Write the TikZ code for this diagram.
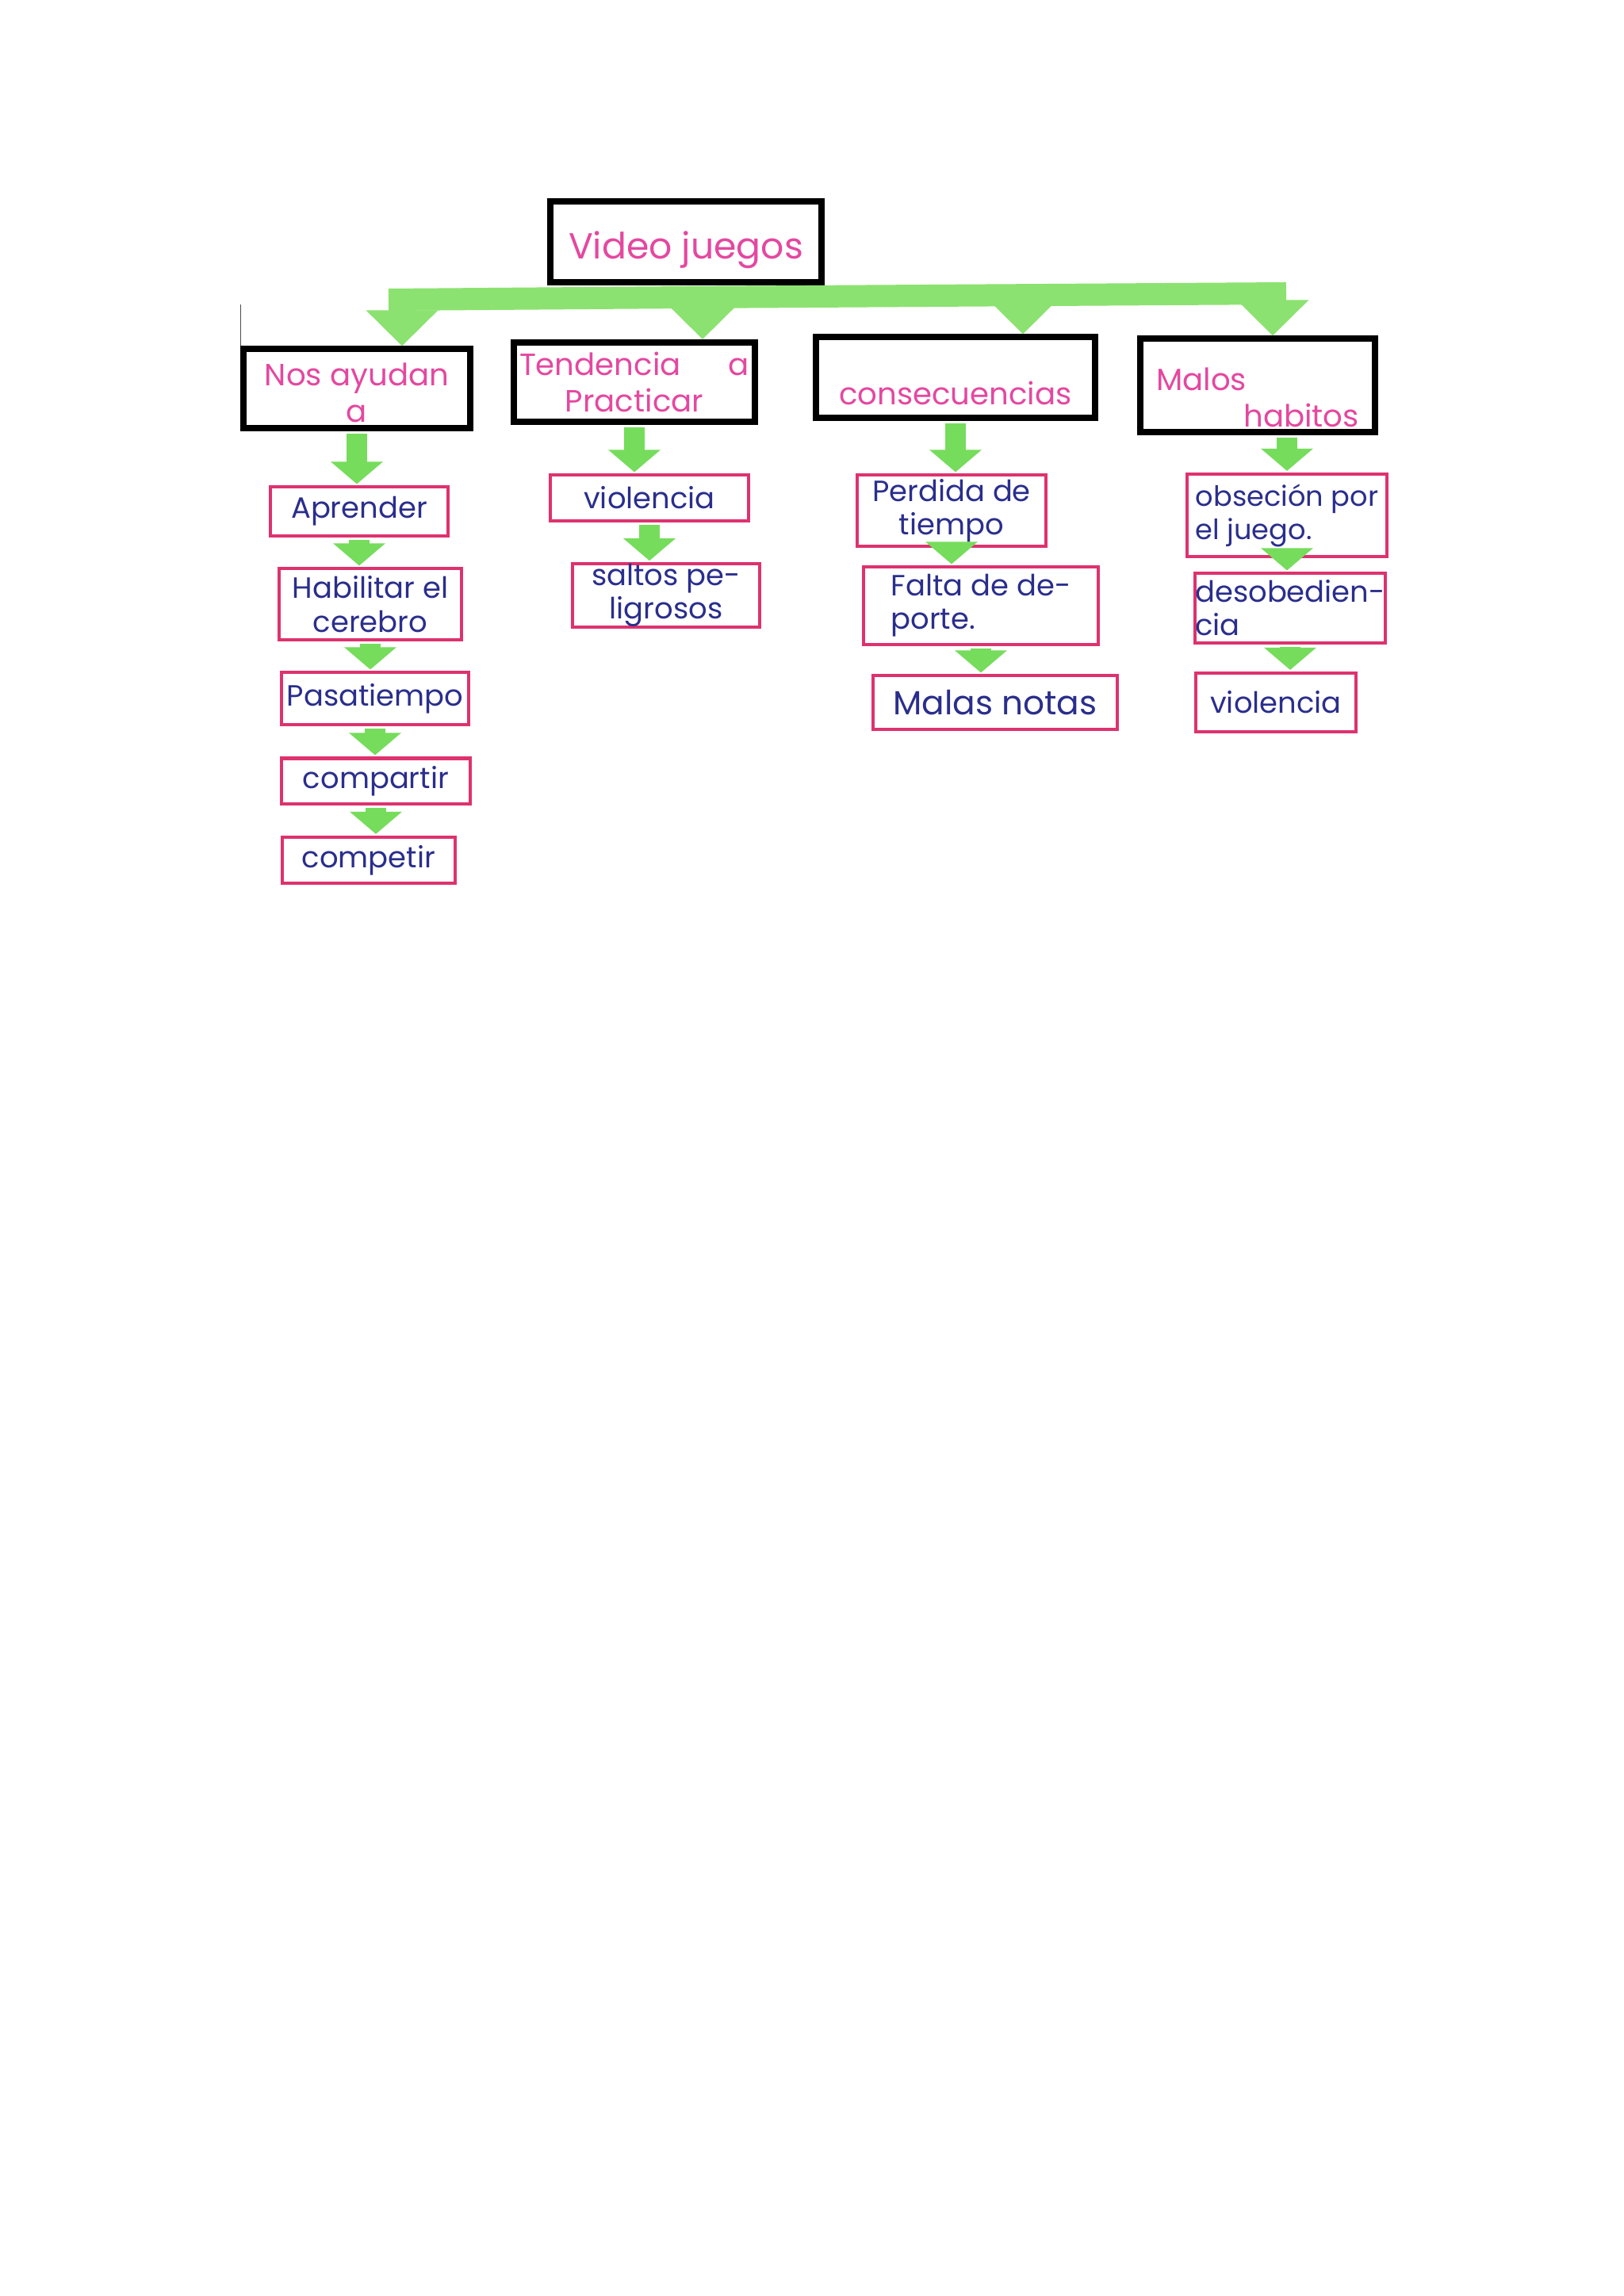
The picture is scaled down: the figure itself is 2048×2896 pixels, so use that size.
\documentclass[tikz,border=0pt]{standalone}
\usepackage{fontspec}
\setmainfont{Poppins}
\usetikzlibrary{arrows.meta}

\definecolor{titlepink}{RGB}{228,72,160}
\definecolor{boxpink}{RGB}{222,50,110}
\definecolor{inkblue}{RGB}{42,46,140}
\definecolor{barlight}{RGB}{140,226,112}
\definecolor{arrowgreen}{RGB}{118,220,92}

\tikzset{
  topbox/.style={draw=black, line width=0.08cm, text=titlepink, align=center, inner sep=0pt, font=\fontsize{11}{13}\selectfont},
  subbox/.style={draw=boxpink, line width=0.04cm, text=inkblue, align=center, inner sep=0pt, font=\fontsize{10.5}{12}\selectfont},
  greenbar/.style={draw=barlight, line width=0.28cm},
  bigarrow/.style={draw=barlight, line width=0.28cm, -{Triangle[width=0.88cm,length=0.45cm]}},
  smallarrow/.style={draw=arrowgreen, line width=0.26cm, -{Triangle[width=0.64cm,length=0.28cm]}, shorten <=0.03cm, shorten >=0.02cm}
}

\begin{document}
\begin{tikzpicture}[x=0.01cm, y=-0.01cm]
    \fill[white] (0,0) rectangle (2048,2896);
    \useasboundingbox (0,0) rectangle (2048,2896);

    \node[topbox, minimum width=3.42cm, minimum height=1.01cm, font=\fontsize{13}{15}\selectfont] (video) at (865,305) {\raisebox{-0.1cm}[\height][\depth]{Video juegos}};

    \node[topbox, minimum width=2.85cm, minimum height=0.99cm] (ayudan) at (450,490) {\raisebox{-0.1cm}[\height][\depth]{\begin{tabular}{@{}c@{}}Nos ayudan\\ a\end{tabular}}};
    \node[topbox, minimum width=3.03cm, minimum height=1.00cm] (tendencia) at (800,482) {Tendencia\hspace{0.6cm}a\\ Practicar};
    \node[topbox, minimum width=3.51cm, minimum height=1.01cm] (consec) at (1205,476) {\raisebox{-0.2cm}[\height][\depth]{consecuencias}};
    \node[topbox, minimum width=2.95cm, minimum height=1.17cm] (malos) at (1586,486) {\raisebox{-0.2cm}[\height][\depth]{\begin{tabular}{@{}l@{}}Malos\\ \hspace*{1.1cm}habitos\end{tabular}}};

    \node[subbox, minimum width=2.23cm, minimum height=0.61cm] (aprender) at (453,645) {Aprender};
    \node[subbox, minimum width=2.29cm, minimum height=0.89cm] (habilitar) at (467,762) {Habilitar el\\ cerebro};
    \node[subbox, minimum width=2.35cm, minimum height=0.65cm] (pasatiempo) at (473,881) {Pasatiempo};
    \node[subbox, minimum width=2.38cm, minimum height=0.57cm] (compartir) at (474,985) {compartir};
    \node[subbox, minimum width=2.18cm, minimum height=0.58cm] (competir) at (465,1085) {competir};

    \node[subbox, minimum width=2.50cm, minimum height=0.57cm] (violenciaA) at (819,628) {violencia};
    \node[subbox, minimum width=2.36cm, minimum height=0.77cm] (saltos) at (840,751) {saltos pe-\\ ligrosos};

    \node[subbox, minimum width=2.37cm, minimum height=0.89cm] (perdida) at (1200,644) {Perdida de\\ tiempo};
    \node[subbox, minimum width=2.95cm, minimum height=0.97cm, align=left] (falta) at (1237,764) {Falta de de-\\ porte.};
    \node[subbox, minimum width=3.07cm, minimum height=0.67cm, font=\fontsize{12}{14}\selectfont] (notas) at (1255,886) {Malas notas};

    \node[subbox, minimum width=2.51cm, minimum height=1.04cm, align=left, font=\fontsize{10}{12}\selectfont] (obsecion) at (1623,650) {obseción por\\ el juego.};
    \node[subbox, minimum width=2.32cm, minimum height=0.87cm, align=left] (desobed) at (1627,767) {desobedien-\\ cia};
    \node[subbox, minimum width=2.01cm, minimum height=0.74cm] (violenciaB) at (1609,886) {violencia};

    \coordinate (barL) at (490,378);
    \coordinate (barR) at (1622,370);
    \coordinate (t1) at (507,378);
    \coordinate (t2) at (886,375);
    \coordinate (t3) at (1290,373);
    \coordinate (t4) at (1605,370);
    \draw[greenbar] (barL) -- (video.south |- t2) -- (barR);
    \draw[bigarrow] (t1) -- (t1 |- ayudan.north);
    \draw[bigarrow] (t2) -- (t2 |- tendencia.north);
    \draw[bigarrow] (t3) -- (t3 |- consec.north);
    \draw[bigarrow] (t4) -- (t4 |- malos.north);

    \draw[smallarrow] (ayudan.south) -- (ayudan.south |- aprender.north);
    \draw[smallarrow] (aprender.south) -- (aprender.south |- habilitar.north);
    \draw[smallarrow] (habilitar.south) -- (habilitar.south |- pasatiempo.north);
    \draw[smallarrow] (pasatiempo.south) -- (pasatiempo.south |- compartir.north);
    \draw[smallarrow] (compartir.south) -- (compartir.south |- competir.north);

    \draw[smallarrow] (tendencia.south) -- (tendencia.south |- violenciaA.north);
    \draw[smallarrow] (violenciaA.south) -- (violenciaA.south |- saltos.north);

    \draw[smallarrow] (consec.south) -- (consec.south |- perdida.north);
    \draw[smallarrow] (perdida.south) -- (perdida.south |- falta.north);
    \draw[smallarrow] (falta.south) -- (falta.south |- notas.north);

    \draw[smallarrow] (obsecion.north |- malos.south) -- (obsecion.north);
    \draw[smallarrow] (obsecion.south) -- (obsecion.south |- desobed.north);
    \draw[smallarrow] (desobed.south) -- (desobed.south |- violenciaB.north);

    \draw[gray!60!black, line width=0.5pt] (ayudan.north west) -- ++(0,-52);
\end{tikzpicture}
\end{document}
